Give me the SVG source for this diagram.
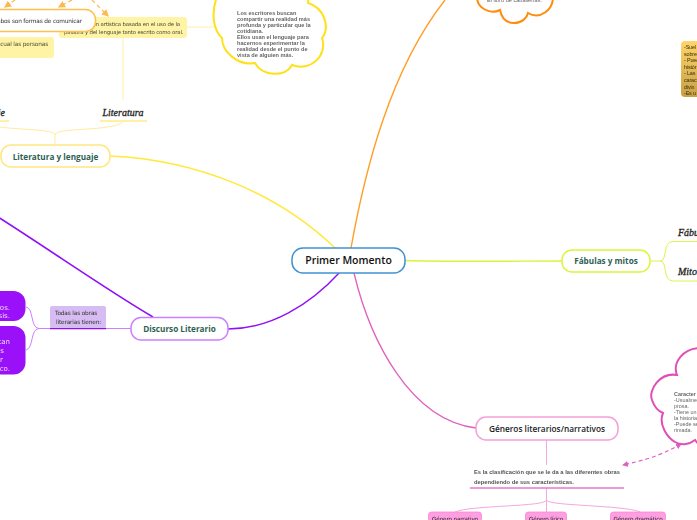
<svg xmlns="http://www.w3.org/2000/svg" width="697" height="520" viewBox="0 0 697 520">
<style>
text{font-family:"Liberation Sans",Arial,sans-serif}
.t{font-family:"Open Sans","Noto Sans",sans-serif;font-weight:700;font-size:8.2px;fill:#2f5f52;text-anchor:middle}
.s{font-size:5.4px;fill:#4a4a3a;font-family:"DejaVu Sans",sans-serif;letter-spacing:-.15px;filter:url(#b)}
.g{font-size:5.6px;fill:#666;font-weight:700;filter:url(#b)}
.h{font-family:"Liberation Serif",serif;font-style:italic;font-size:10px;fill:#222;stroke:#222;stroke-width:.3}
.n{fill:#fff;stroke-width:1.5}
.c{fill:none}
.d{fill:none;stroke-dasharray:4 3;stroke-width:1.2}
</style>
<defs>
<filter id="b" x="-5%" y="-20%" width="110%" height="140%"><feGaussianBlur stdDeviation="0.35"/></filter>
<linearGradient id="gold" x1="0" y1="0" x2="0" y2="1"><stop offset="0" stop-color="#ffd568"/><stop offset="1" stop-color="#c8a045"/></linearGradient>
<marker id="ao" viewBox="0 0 6 6" refX="5" refY="3" markerWidth="6" markerHeight="6" orient="auto"><path d="M0,0L6,3L0,6Z" fill="#ffb84d"/></marker>
<marker id="ap" viewBox="0 0 6 6" refX="5" refY="3" markerWidth="5" markerHeight="5" orient="auto-start-reverse"><path d="M0,0L6,3L0,6Z" fill="#e060c0"/></marker>
</defs>
<g id="connectors">
<path class="c" d="M110,156C200,160 280,195 335,248" stroke="#ffe93b" stroke-width="1.4"/>
<path class="c" d="M351,248C365,170 390,70 445,0" stroke="#ff9f26" stroke-width="1.4"/>
<path class="c" d="M405,260.500C450,262 520,261 562,261" stroke="#d9f23c" stroke-width="1.4"/>
<path class="c" d="M354,273C370,340 410,420 476,428" stroke="#e060c0" stroke-width="1.3"/>
<path class="c" d="M228,329C270,329 310,305 340,272" stroke="#9010f8" stroke-width="1.4"/>
<path class="c" d="M-2,217C50,250 110,292 153,317" stroke="#9010f8" stroke-width="1.7"/>
<path class="c" d="M55,145V135C55,127 110,132 123,122M55,135C55,129 20,130 0,127" stroke="#ffeb9e"/>
<path class="c" d="M123,100V38M187,27H214" stroke="#ffeb9e" stroke-width=".9"/>
<path class="c" d="M100,121H147M0,121H9" stroke="#ffe14d" stroke-width="1.2"/>
<path class="c" d="M650,261H660C668,261 662,241.500 673,241.500H697M660,261C668,261 662,281 673,281H697" stroke="#dff24d"/>
<path class="c" d="M131,328.500H106M50,328.500H39C30,328 34,308 26,307M39,328.500C30,329 34,348 26,350" stroke="#cc80ff"/>
<path class="c" d="M50,328.500H106" stroke="#9010e8" stroke-width="1.5"/>
<path class="c" d="M546.500,440V465M546.500,488V500C546.500,507 470,505 455,512M546.500,500V512M546.500,500C546.500,506 625,505 640,512" stroke="#f4a8dc"/>
<path class="c" d="M470,488H624" stroke="#e878c8" stroke-width="1.5"/>
<path class="d" d="M681,444C660,456 645,460 623,465" stroke="#e060c0" marker-end="url(#ap)" marker-start="url(#ap)"/>
<path class="d" d="M72,0L59,7" stroke="#ffb84d" marker-end="url(#ao)"/>
<path class="d" d="M15,0L5,7" stroke="#ffb84d" marker-end="url(#ao)"/>
<path class="d" d="M92,0L108,16" stroke="#ffb84d" marker-end="url(#ao)"/>
</g>
<g id="def-literatura">
<rect x="59" y="17" width="128" height="21" rx="3" fill="#fff4a6"/>
<text class="s" x="180" y="26" text-anchor="end">Es una expresión artística basada en el uso de la</text>
<text class="s" x="64" y="34">palabra y del lenguaje tanto escrito como oral.</text>
</g>
<g id="def-lenguaje">
<rect x="-40" y="37" width="94" height="21" rx="3" fill="#fff4a6"/>
<text class="s" x="48" y="46" text-anchor="end" style="font-size:5.800px">el cual las personas</text>
</g>
<g id="ambos">
<rect class="n" x="-70" y="9.500" width="165.500" height="22" rx="10" stroke="#ffc04d"/>
<text class="s" x="82" y="23" text-anchor="end" style="fill:#333;font-size:5.800px">Ambos son formas de comunicar</text>
</g>
<g id="nube-escritores">
<path d="M217,-3C211,12 213,30 222,38C222,52 238,66 255,63C262,76 285,78 292,65C310,72 328,56 322,38C330,28 325,8 308,3L309,-5" fill="#fff" stroke="#ffe019" stroke-width="2"/>
<g class="g">
<text x="237" y="15">Los escritores buscan</text>
<text x="237" y="21">compartir una realidad más</text>
<text x="237" y="27">profunda y particular que la</text>
<text x="237" y="33">cotidiana.</text>
<text x="237" y="39">Ellos usan el lenguaje para</text>
<text x="237" y="45">hacernos experimentar la</text>
<text x="237" y="51">realidad desde el punto de</text>
<text x="237" y="57">vista de alguien más.</text>
</g>
</g>
<g id="nube-naranja">
<path d="M477,-3C477,8 490,15 500,10C502,20 508,23 514,23C522,23 527,18 528,13C540,20 553,10 553,-3" fill="#fff" stroke="#ff8c0a" stroke-width="2"/>
<text class="g" x="487" y="2" style="font-weight:400">El libro de caballerías.</text>
</g>
<g id="literatura"><text class="h" x="123" y="116" text-anchor="middle">Literatura</text></g>
<g id="lenguaje"><text class="h" x="5" y="116" text-anchor="end">Lenguaje</text></g>
<g id="literatura-y-lenguaje">
<rect class="n" x="1" y="145" width="109" height="22" rx="10" stroke="#ffe680"/>
<text class="t" x="55.500" y="159.500">Literatura y lenguaje</text>
</g>
<g id="primer-momento">
<rect class="n" x="292" y="248" width="113" height="25" rx="11" stroke="#3f92d2" stroke-width="1"/>
<text x="348.500" y="264.300" text-anchor="middle" style="font-family:'Open Sans','Noto Sans',sans-serif;font-weight:600;font-size:10.500px;fill:#111">Primer Momento</text>
</g>
<g id="fabulas-y-mitos">
<rect class="n" x="562" y="250" width="88" height="22" rx="10" stroke="#dcf53a"/>
<text class="t" x="606" y="264">Fábulas y mitos</text>
</g>
<g id="fabulas"><text class="h" x="678" y="236">Fábulas</text></g>
<g id="mitos"><text class="h" x="678" y="275">Mitos</text></g>
<g id="oro">
<rect x="681" y="41" width="40" height="56" rx="4" fill="url(#gold)"/>
<g class="s" style="font-size:5.400px;fill:#3a2f10">
<text x="684" y="49">-Suel</text><text x="684" y="55.500">sobre</text><text x="684" y="62">- Pued</text><text x="684" y="68.500">histór</text><text x="684" y="75">- Las</text><text x="684" y="82">carac</text><text x="684" y="88.500">divin</text><text x="684" y="95">-Es u</text>
</g>
</g>
<g id="discurso-literario">
<rect class="n" x="131" y="317.500" width="97" height="22.500" rx="10" stroke="#cc80ff"/>
<text class="t" x="179.500" y="332">Discurso Literario</text>
</g>
<g id="todas">
<rect x="50" y="306" width="56" height="22" rx="2" fill="#d6bcf2"/>
<text class="s" x="55" y="315" style="fill:#333;font-size:5.800px">Todas las obras</text>
<text class="s" x="56" y="324" style="fill:#333;font-size:5.800px">literarias tienen:</text>
</g>
<g id="morado-1">
<rect x="-40" y="291" width="65.500" height="30" rx="12" fill="#9a10f8"/>
<g style="font-size:7px;fill:#ecdcff;filter:url(#b)"><text x="10" y="310" text-anchor="end" style="font-family:'DejaVu Sans',sans-serif">os.</text><text x="10" y="318" text-anchor="end" style="font-family:'DejaVu Sans',sans-serif">sis.</text></g>
</g>
<g id="morado-2">
<rect x="-40" y="326" width="65.500" height="48.500" rx="12" fill="#9a10f8"/>
<g style="font-size:7px;fill:#ecdcff;filter:url(#b)"><text x="10" y="344" text-anchor="end" style="font-family:'DejaVu Sans',sans-serif">tan</text><text x="4" y="353" text-anchor="end" style="font-family:'DejaVu Sans',sans-serif">s</text><text x="3" y="362" text-anchor="end" style="font-family:'DejaVu Sans',sans-serif">r</text><text x="10" y="371" text-anchor="end" style="font-family:'DejaVu Sans',sans-serif">co.</text></g>
</g>
<g id="generos">
<rect class="n" x="476" y="417" width="142" height="23" rx="10" stroke="#f4a0d8"/>
<text x="547" y="432" text-anchor="middle" style="font-family:'Open Sans','Noto Sans',sans-serif;font-weight:600;font-size:8.300px;fill:#222">Géneros literarios/narrativos</text>
</g>
<g id="clasificacion">
<text class="s" x="474" y="474" style="fill:#555;font-size:5.800px;font-weight:700;font-family:'Liberation Sans',sans-serif;letter-spacing:0">Es la clasificación que se le da a las diferentes obras</text>
<text class="s" x="474" y="484" style="fill:#555;font-size:5.800px;font-weight:700;font-family:'Liberation Sans',sans-serif;letter-spacing:0">dependiendo de sus características.</text>
</g>
<g id="nube-rosa">
<path d="M700,348C684,348 672,362 677,375C660,372 648,390 652,400C654,406 658,411 663,413C658,425 668,438 675,442C682,446 690,444 695,440L699,445" fill="#fff" stroke="#e04fb8" stroke-width="2"/>
<g class="g" style="font-weight:400;font-size:5.400px">
<text x="674" y="396" style="font-weight:700">Caracter</text><text x="674" y="402">-Usualme</text><text x="674" y="408">prosa.</text><text x="674" y="414">-Tiene un</text><text x="674" y="420">la historia</text><text x="674" y="426">-Puede se</text><text x="674" y="432">rimada.</text>
</g>
</g>
<g id="genero-narrativo"><rect x="428.500" y="512" width="53" height="14" rx="3" fill="#ff9ee0" stroke="#f48ad2" stroke-width=".8"/><text class="s" x="455" y="520.500" text-anchor="middle" style="fill:#222;font-size:5.700px">Género narrativo</text></g>
<g id="genero-lirico"><rect x="525.500" y="512" width="41" height="14" rx="3" fill="#ff9ee0" stroke="#f48ad2" stroke-width=".8"/><text class="s" x="546" y="520.500" text-anchor="middle" style="fill:#222;font-size:5.700px">Género lírico</text></g>
<g id="genero-dramatico"><rect x="610.500" y="512" width="55" height="14" rx="3" fill="#ff9ee0" stroke="#f48ad2" stroke-width=".8"/><text class="s" x="638" y="520.500" text-anchor="middle" style="fill:#222;font-size:5.700px">Género dramático</text></g>
</svg>
